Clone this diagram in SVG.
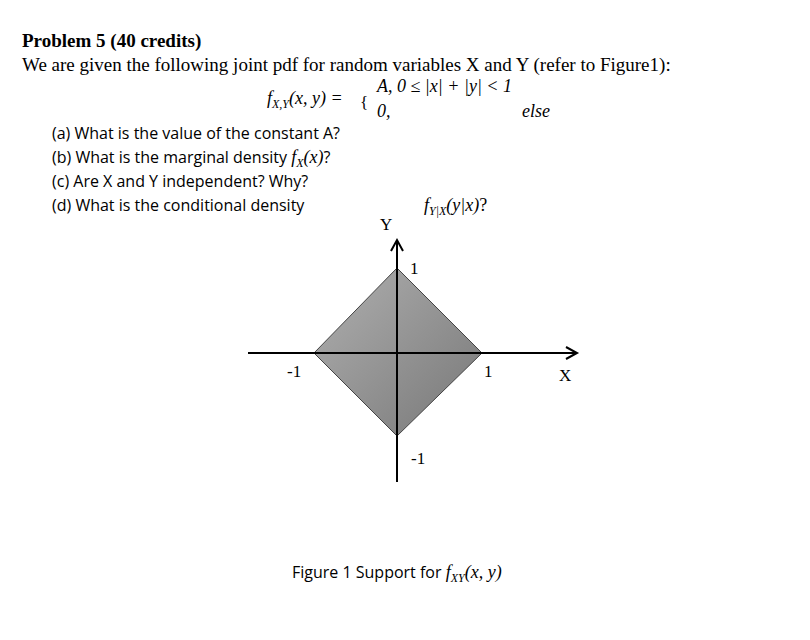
<svg xmlns="http://www.w3.org/2000/svg" width="810" height="640" viewBox="0 0 810 640">
<defs>
<linearGradient id="g" x1="0" y1="0" x2="1" y2="1"><stop offset="0" stop-color="#b0b0b0"/><stop offset="1" stop-color="#777"/></linearGradient>
<style>
.s{font-family:"Liberation Serif",serif;font-size:19px;fill:#000}
.c{font-family:"Open Sans","DejaVu Sans",sans-serif;font-size:16px;fill:#000}
.m{font-family:"Liberation Serif",serif;font-size:18px;font-style:italic;fill:#000}
.n{font-family:"Liberation Serif",serif;font-size:17px;fill:#000}
.ax{stroke:#000;stroke-width:2;fill:none}
</style>
</defs>
<rect width="810" height="640" fill="#fff"/>
<text class="s" x="22" y="47" font-weight="bold" font-size="20">Problem 5 (40 credits)</text>
<text class="s" x="22" y="71">We are given the following joint pdf for random variables X and Y (refer to Figure1):</text>
<g id="formula">
<text class="m" x="267" y="104">f<tspan font-size="12" dy="4">X,Y</tspan><tspan dy="-4">(x, y) = </tspan></text>
<text class="n" x="360" y="108" font-size="34" transform="scale(1,1)">{</text>
<text class="m" x="377" y="92" font-style="normal">A,   0 ≤ |<tspan font-style="italic">x</tspan>| + |<tspan font-style="italic">y</tspan>| &lt; 1</text>
<text class="m" x="377" y="117" font-style="normal">0,</text>
<text class="m" x="522" y="117">else</text>
</g>
<text class="c" x="52" y="139">(a) What is the value of the constant A?</text>
<text class="c" x="52" y="163">(b) What is the marginal density <tspan font-family="Liberation Serif" font-style="italic" font-size="18">f<tspan font-size="12" dy="4">X</tspan><tspan dy="-4">(x)</tspan></tspan>?</text>
<text class="c" x="52" y="187">(c) Are X and Y independent? Why?</text>
<text class="c" x="52" y="211">(d) What is the conditional density</text>
<text class="m" x="424" y="211">f<tspan font-size="12" dy="4">Y|X</tspan><tspan dy="-4">(y|x)</tspan><tspan font-style="normal">?</tspan></text>
<g id="diamond"><polygon points="397,268 482,353 397,436 314,353" fill="url(#g)" stroke="#444" stroke-width="1"/></g>
<g id="connectors">
<line class="ax" x1="248" y1="353" x2="576" y2="353"/>
<polyline class="ax" points="566,347 577,353 566,359"/>
<line class="ax" x1="397" y1="482" x2="397" y2="241"/>
<polyline class="ax" points="391,251 397,240 403,251"/>
</g>
<g id="labels">
<text class="n" x="380" y="230">Y</text>
<text class="n" x="410" y="274">1</text>
<text class="n" x="287" y="377">-1</text>
<text class="n" x="484" y="377">1</text>
<text class="n" x="559" y="381">X</text>
<text class="n" x="411" y="464">-1</text>
</g>
<text class="c" x="292" y="578">Figure 1 Support for <tspan font-family="Liberation Serif" font-style="italic" font-size="18">f<tspan font-size="12" dy="4">XY</tspan><tspan dy="-4">(x, y)</tspan></tspan></text>
</svg>
